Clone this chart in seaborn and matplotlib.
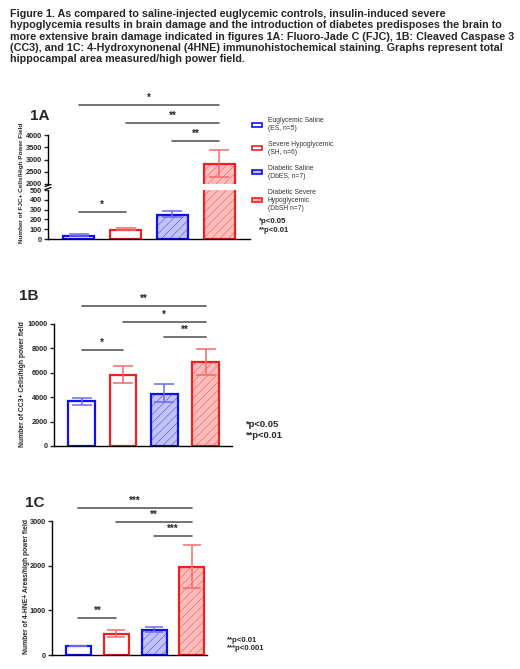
import numpy as np
import pandas as pd
import matplotlib
matplotlib.use("Agg")
import matplotlib.pyplot as plt
import seaborn as sns
from matplotlib.patches import Patch

sns.set_style("white")
plt.rcParams['font.family'] = ['Liberation Sans', 'DejaVu Sans']
plt.rcParams['hatch.linewidth'] = 0.25

# ---------------- data ----------------
groups = ["ES", "SH", "DbES", "DbSH"]
legend_labels = ["Euglycemic Saline\n(ES, n=5)", "Severe Hypoglycemic\n(SH, n=6)",
                 "Diabetic Saline\n(DbES, n=7)", "Diabetic Severe\nHypoglycemic\n(DbSH n=7)"]

fjc_mean = [35, 92, 250, 2820]
fjc_err_lo = [0, 0, 30, 540]
fjc_err_hi = [18, 18, 35, 560]

cc3_mean = [3650, 5850, 4300, 6850]
cc3_err_lo = [250, 650, 720, 1050]
cc3_err_hi = [300, 700, 800, 1100]

hne_mean = [200, 480, 560, 1980]
hne_err_lo = [0, 70, 40, 490]
hne_err_hi = [12, 80, 60, 490]

# significance comparisons: (i, j, label)
sig_1a = [(0, 3, "*"), (1, 3, "**"), (2, 3, "**"), (0, 1, "*")]
sig_1b = [(0, 3, "**"), (1, 3, "*"), (2, 3, "**"), (0, 1, "*")]
sig_1c = [(0, 3, "***"), (1, 3, "**"), (2, 3, "***"), (0, 1, "**")]

edge_cols = ["#1010F0", "#F02020", "#1010F0", "#F02020"]
face_cols = ["white", "white", "#C2C2F4", "#FFBCBC"]
err_cols = ["#6A6AF5", "#F56A6A", "#6A6AF5", "#F56A6A"]
hatches = [None, None, "////", "////"]

W, H = 520, 669
fig = plt.figure(figsize=(W / 100, H / 100), dpi=100)


def axpx(x0, y0, x1, y1):
    return fig.add_axes([x0 / W, 1 - y1 / H, (x1 - x0) / W, (y1 - y0) / H])


def fig_text(x, y, s, **kw):
    fig.text(x / W, 1 - y / H, s, **kw)


def draw_bars(ax, means, lo, hi, width, xlim, ylim, cap):
    df = pd.DataFrame({"group": groups, "value": means})
    sns.barplot(data=df, x="group", y="value", hue="group", palette=edge_cols,
                legend=False, errorbar=None, width=width, ax=ax, zorder=2)
    for k, p in enumerate(ax.patches):
        p.set_facecolor(face_cols[k])
        p.set_edgecolor(edge_cols[k])
        p.set_linewidth(1.6)
        if hatches[k]:
            p.set_hatch(hatches[k])
    xs = np.arange(len(groups))
    for k in range(len(groups)):
        ax.errorbar(xs[k], means[k], yerr=[[lo[k]], [hi[k]]], fmt="none",
                    ecolor=err_cols[k], elinewidth=1.1, capsize=cap, capthick=1.1, zorder=3)
    ax.set_xlim(*xlim)
    ax.set_ylim(*ylim)
    ax.set_xlabel("")
    ax.set_ylabel("")
    ax.set_xticks([])
    for s in ["top", "right"]:
        ax.spines[s].set_visible(False)
    for s in ["left", "bottom"]:
        ax.spines[s].set_linewidth(1.0)
        ax.spines[s].set_color("black")
    ax.tick_params(axis="y", length=3, width=1.0, labelsize=5.3, pad=1.5, left=True)
    ax.patch.set_alpha(0)


def bold_ticks(ax):
    for t in ax.get_yticklabels():
        t.set_fontweight("bold")


def sig_lines(ax, comps, ylevels, fs=7):
    for (i, j, lab), yv in zip(comps, ylevels):
        ax.plot([i, j], [yv, yv], color="#5A5A5A", lw=1.2, clip_on=False, zorder=4)
        ax.annotate(lab, xy=((i + j) / 2, yv), xytext=(0, 1.5), textcoords="offset points",
                    ha="center", va="bottom", fontsize=fs, fontweight="bold",
                    annotation_clip=False)


# ---------------- title ----------------
title = ("Figure 1. As compared to saline-injected euglycemic controls, insulin-induced severe\n"
         "hypoglycemia results in brain damage and the introduction of diabetes predisposes the brain to\n"
         "more extensive brain damage indicated in figures 1A: Fluoro-Jade C (FJC), 1B: Cleaved Caspase 3\n"
         "(CC3), and 1C: 4-Hydroxynonenal (4HNE) immunohistochemical staining. Graphs represent total\n"
         "hippocampal area measured/high power field.")
fig_text(10, 9, title, fontsize=7.75, fontweight="bold", va="top", ha="left", linespacing=1.16)

# ---------------- 1A (broken axis) ----------------
ax_top = axpx(48, 135, 250, 184)
ax_bot = axpx(48, 190, 250, 239)
xl_a = (-0.65, 3.65)
draw_bars(ax_top, fjc_mean, fjc_err_lo, fjc_err_hi, 0.67, xl_a, (2000, 4000), 7.5)
draw_bars(ax_bot, fjc_mean, fjc_err_lo, fjc_err_hi, 0.67, xl_a, (0, 500), 7.5)
ax_top.spines["bottom"].set_visible(False)
ax_top.set_yticks([2000, 2500, 3000, 3500, 4000])
ax_bot.set_yticks([0, 100, 200, 300, 400, 500])
bold_ticks(ax_top)
bold_ticks(ax_bot)
# break marks
for yy in (185.5, 188.5):
    fig.add_artist(plt.Line2D([45 / W, 51 / W], [1 - (yy + 1) / H, 1 - (yy - 1) / H],
                              color="black", lw=0.9))
sig_lines(ax_top, sig_1a[:3], [5230, 4500, 3760])
sig_lines(ax_bot, sig_1a[3:], [280])
fig_text(30, 116, "1A", fontsize=11, fontweight="bold", va="center", ha="left")
fig_text(22, 183, "Number of FJC+ Cells/High Power Field", fontsize=4.6, fontweight="bold",
         rotation=90, va="center", ha="center")

handles = [Patch(facecolor=face_cols[k], edgecolor=edge_cols[k], linewidth=1.2,
                 hatch=hatches[k]) for k in range(4)]
leg = fig.legend(handles, legend_labels, loc="upper left", bbox_to_anchor=(252 / W, 1 - 117 / H),
                 frameon=False, fontsize=4.9, handlelength=1.4, handleheight=0.55,
                 handletextpad=0.9, labelspacing=1.3, borderpad=0, borderaxespad=0)
for t in leg.get_texts():
    t.set_color("#333333")
fig_text(259, 226, "*p<0.05\n**p<0.01", fontsize=5.6, fontweight="bold", va="center", ha="left",
         linespacing=1.25)

# ---------------- 1B ----------------
ax_b = axpx(54, 324, 232, 446)
draw_bars(ax_b, cc3_mean, cc3_err_lo, cc3_err_hi, 0.65, (-0.67, 3.64), (0, 10000), 7)
ax_b.set_yticks([0, 2000, 4000, 6000, 8000, 10000])
bold_ticks(ax_b)
sig_lines(ax_b, sig_1b, [11500, 10200, 8950, 7900])
fig_text(19, 296, "1B", fontsize=11, fontweight="bold", va="center", ha="left")
fig_text(23, 384, "Number of CC3+ Cells/high power field", fontsize=4.9, fontweight="bold",
         rotation=90, va="center", ha="center")
fig_text(245, 430, "*p<0.05\n**p<0.01", fontsize=6.8, fontweight="bold", va="center", ha="left",
         linespacing=1.15)

# ---------------- 1C ----------------
ax_c = axpx(52, 521, 207, 655)
draw_bars(ax_c, hne_mean, hne_err_lo, hne_err_hi, 0.66, (-0.7, 3.4), (0, 3000), 6.5)
ax_c.set_yticks([0, 1000, 2000, 3000])
bold_ticks(ax_c)
sig_lines(ax_c, sig_1c, [3290, 2980, 2670, 820])
fig_text(25, 503, "1C", fontsize=11, fontweight="bold", va="center", ha="left")
fig_text(27, 586, "Number of 4-HNE+ Areas/high power field", fontsize=4.9, fontweight="bold",
         rotation=90, va="center", ha="center")
fig_text(227, 644, "**p<0.01\n***p<0.001", fontsize=5.6, fontweight="bold", va="center", ha="left",
         linespacing=1.2)

fig.savefig("out.png", dpi=100, facecolor="white")
